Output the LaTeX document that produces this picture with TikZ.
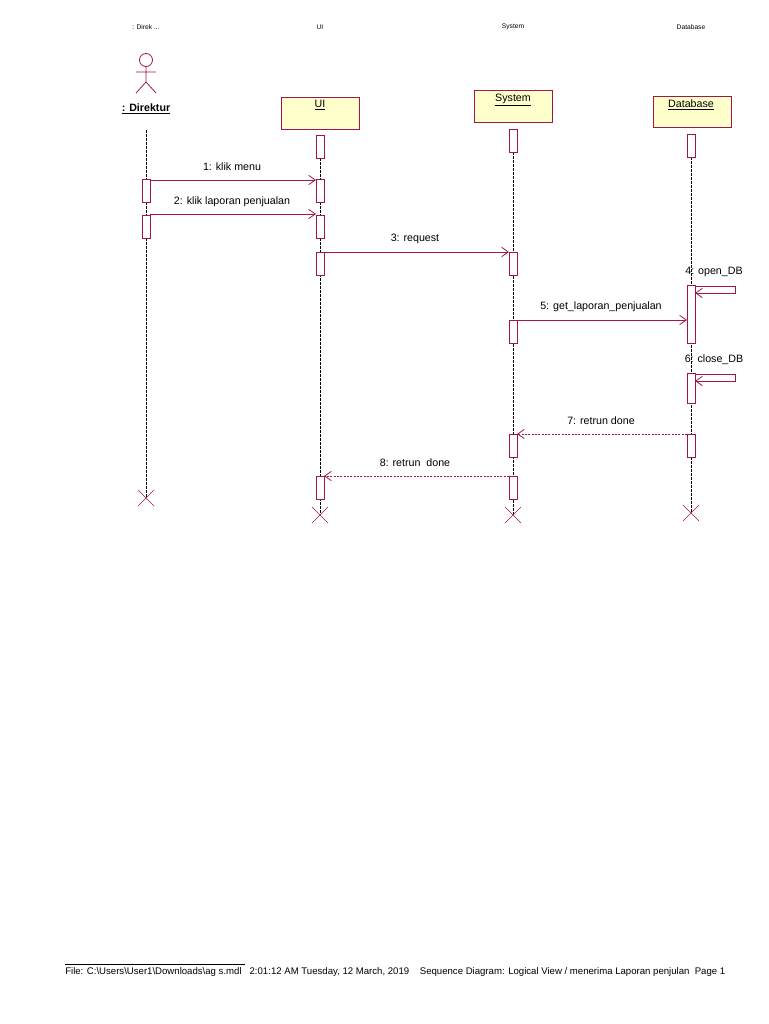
\documentclass[tikz,border=0pt]{standalone}
\usepackage{fontspec}
\setmainfont{Liberation Sans}
\usetikzlibrary{arrows.meta}
\definecolor{mar}{HTML}{A0164A}
\definecolor{pale}{HTML}{FFFFCC}
\begin{document}
\begin{tikzpicture}[x=0.75pt,y=-0.75pt,
  obj/.style={draw=mar,fill=pale,line width=0.7pt},
  act/.style={draw=mar,fill=white,line width=0.6pt},
  life/.style={dashed,line width=0.5pt,dash pattern=on 2pt off 1pt},
  msg/.style={draw=mar,line width=0.6pt,-{Straight Barb[length=5pt,width=7pt]}},
  ret/.style={msg,dash pattern=on 1.5pt off 1pt},
  lbl/.style={font=\fontsize{8}{9}\selectfont,inner sep=0pt},
  tiny/.style={font=\fontsize{5}{6}\selectfont,inner sep=0pt}]
\useasboundingbox (0,0) rectangle (768,1024);
% top labels
\node[tiny] (t1) at (146,27) {: Direk ...};
\node[tiny] (t2) at (320,27) {UI};
\node[tiny] (t3) at (513,27) {System};
\node[tiny] (t4) at (691,27) {Database};
% actor
\draw[mar,line width=0.6pt] (146,60) circle (6.5);
\draw[mar,line width=0.6pt] (146,66.5)--(146,82) (136,72)--(156,72) (136,93)--(146,82)--(156,93);
\node[lbl,font=\bfseries\fontsize{8}{9}\selectfont] (dir) at (146,109) {\underline{: Direktur}};
% objects
\draw[obj] (281,97) rectangle (359,129); \node[lbl] (ui) at (320,105) {\underline{UI}};
\draw[obj] (474,90) rectangle (552,122); \node[lbl] (sys) at (513,100) {\underline{System}};
\draw[obj] (653,96) rectangle (731,127); \node[lbl] (db) at (691,105) {\underline{Database}};
% lifelines
\draw[life] (146,130)--(146,498);
\draw[life] (320,158)--(320,515);
\draw[life] (513,152)--(513,515);
\draw[life] (691,157)--(691,513);
% X marks
\foreach \x/\y in {146/498,320/515,513/515,691/513}
  \draw[mar,line width=0.5pt] (\x-8,\y-8)--(\x+8,\y+8) (\x-8,\y+8)--(\x+8,\y-8);
% activations
\foreach \x/\a/\b in {320/135/158,513/129/152,691/134/157,
  146/179/202,146/215/238,320/179/202,320/215/238,320/252/275,320/476/499,
  513/252/275,513/320/343,513/434/457,513/476/499,
  691/285/343,691/373/403,691/434/457}
  \draw[act] (\x-4,\a) rectangle (\x+4,\b);
% messages
\coordinate (m1a) at (150,180); \coordinate (m1b) at (316,180);
\draw[msg] (m1a)--(m1b); \node[lbl] (l1) at (232,167) {1: klik menu};
\coordinate (m2a) at (150,214); \coordinate (m2b) at (316,214);
\draw[msg] (m2a)--(m2b); \node[lbl] (l2) at (232,202) {2: klik laporan penjualan};
\coordinate (m3a) at (324,252); \coordinate (m3b) at (509,252);
\draw[msg] (m3a)--(m3b); \node[lbl] (l3) at (415,239) {3: request};
\coordinate (m4a) at (695,286); \coordinate (m4b) at (695,293);
\draw[msg] (m4a)--(735,286)--(735,293)--(m4b); \node[lbl] (l4) at (714,272) {4: open\_DB};
\coordinate (m5a) at (517,320); \coordinate (m5b) at (687,320);
\draw[msg] (m5a)--(m5b); \node[lbl] (l5) at (601,307) {5: get\_laporan\_penjualan};
\coordinate (m6a) at (695,374); \coordinate (m6b) at (695,381);
\draw[msg] (m6a)--(735,374)--(735,381)--(m6b); \node[lbl] (l6) at (714,360) {6: close\_DB};
\coordinate (m7a) at (687,434); \coordinate (m7b) at (517,434);
\draw[ret] (m7a)--(m7b); \node[lbl] (l7) at (601,421) {7: retrun done};
\coordinate (m8a) at (509,476); \coordinate (m8b) at (324,476);
\draw[ret] (m8a)--(m8b); \node[lbl] (l8) at (415,463) {8: retrun\ \ done};
% footer
\draw[line width=0.6pt] (65,964)--(245,964);
\node[lbl,anchor=west,font=\fontsize{7.2}{8}\selectfont] (foot) at (65,972) {File: C:\textbackslash Users\textbackslash User1\textbackslash Downloads\textbackslash ag s.mdl\ \ \ 2:01:12 AM Tuesday, 12 March, 2019\ \ \ \ Sequence Diagram: Logical View / menerima Laporan penjulan\ \ Page 1};
\end{tikzpicture}
\end{document}
